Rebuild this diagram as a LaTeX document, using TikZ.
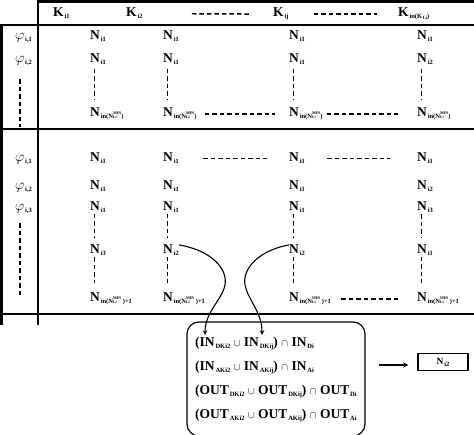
\documentclass[tikz,border=0pt]{standalone}
\usepackage{fontspec}
\setmainfont{Liberation Serif}
\usetikzlibrary{shapes, arrows}
\tikzstyle{cell} = [inner sep=0pt, anchor=base west, font=\fontsize{13.5}{16}\selectfont\bfseries]
\tikzstyle{gap} = [line width=1.5pt, dash pattern=on 4.5pt off 3pt]
\tikzstyle{rule} = [line width=1.8pt]
\tikzstyle{flow} = [line width=1.1pt,->,>=stealth]
\tikzstyle{eqbox} = [draw, line width=1.2pt, rounded corners=12pt, minimum width=178pt, minimum height=114pt]
\tikzstyle{result} = [draw, line width=1.2pt, minimum width=50pt, minimum height=17pt, inner sep=0pt, font=\fontsize{9.5}{11}\selectfont\bfseries]
\newcommand{\lo}[1]{\kern0.8pt\raisebox{-1.8pt}{\fontsize{6.5}{6.5}\selectfont\bfseries #1}}
\newcommand{\minli}{\raisebox{0.5pt}{\fontsize{4}{3.8}\selectfont\begin{tabular}[b]{@{}l@{}}MIN\\Li\end{tabular}}}
\newcommand{\phix}[1]{$\varphi$\lo{#1}}
\newcommand{\un}{\kern3.5pt{\fontsize{10}{10}\selectfont$\cup$}\kern3.5pt}
\newcommand{\isect}{\kern3.5pt{\fontsize{10}{10}\selectfont$\cap$}\kern3.5pt}

\begin{document}
\begin{tikzpicture}[x=1pt,y=-1pt]
\useasboundingbox (0,0) rectangle (474,435);

% table rules
\draw[rule, line width=2.4pt] (38,1.5) -- (474,1.5);
\draw[rule] (38,0) -- (38,325);
\draw[rule, line width=2.4pt] (1.5,25) -- (1.5,325);
\draw[rule] (0,25) -- (474,25);
\draw[rule] (0,129) -- (474,129);
\draw[rule] (0,314) -- (474,314);

% header
\node[cell] (k1) at (53,17) {K\lo{i1}};
\node[cell] (k2) at (126,17) {K\lo{i2}};
\node[cell] (k3) at (273,17) {K\lo{ij}};
\node[cell] (k4) at (398,17) {K\lo{in(K\raisebox{-1pt}{\fontsize{4.5}{4.5}\selectfont\,Li})}};
\draw[gap, shorten <=49pt, shorten >=23pt] (k2.east) -- (k3.west);
\draw[gap, shorten <=25pt, shorten >=21pt] (k3.east) -- (k4.west);

% upper block
\node[cell] (f1) at (15,40) {\phix{i,1}};
\node[cell] (f2) at (15,63) {\phix{i,2}};
\coordinate (fend) at (20,127);
\draw[gap, shorten <=13pt] ([xshift=5pt]f2.south west) -- (fend);

\node[cell] (u11) at (90,40) {N\lo{i1}};
\node[cell] (u12) at (163,40) {N\lo{i1}};
\node[cell] (u13) at (289,40) {N\lo{i1}};
\node[cell] (u14) at (417,40) {N\lo{i1}};
\node[cell] (u21) at (90,63) {N\lo{i1}};
\node[cell] (u22) at (163,63) {N\lo{i1}};
\node[cell] (u23) at (289,63) {N\lo{i1}};
\node[cell] (u24) at (417,63) {N\lo{i2}};
\foreach \c/\x in {1/90, 2/163, 3/289, 4/417}
  \node[cell] (u3\c) at (\x,117) {N\lo{in(N\minli)}};
\foreach \c in {1,...,4}
  \draw[gap, shorten <=4pt, shorten >=7.5pt] ([xshift=4.5pt]u2\c.south west) -- ([xshift=4.5pt]u3\c.north west);
\draw[gap, shorten <=8pt, shorten >=14pt] (u32.east) -- (u33.west);
\draw[gap, shorten <=4pt, shorten >=19pt] (u33.east) -- (u34.west);

% lower block
\node[cell] (g1) at (15,162) {\phix{i,1}};
\node[cell] (g2) at (15,190) {\phix{i,2}};
\node[cell] (g3) at (15,211) {\phix{i,3}};
\coordinate (gend) at (20,298);
\draw[gap, shorten <=9pt] ([xshift=5pt]g3.south west) -- (gend);

\foreach \c/\x in {1/90, 2/163, 3/289, 4/417}
  \node[cell] (l1\c) at (\x,162) {N\lo{i1}};
\node[cell] (l21) at (90,190) {N\lo{i1}};
\node[cell] (l22) at (163,190) {N\lo{i1}};
\node[cell] (l23) at (289,190) {N\lo{i1}};
\node[cell] (l24) at (417,190) {N\lo{i2}};
\node[cell] (l31) at (90,211) {N\lo{i1}};
\node[cell] (l32) at (163,211) {N\lo{i1}};
\node[cell] (l33) at (289,211) {N\lo{i1}};
\node[cell] (l34) at (417,211) {N\lo{i3}};
\node[cell] (l41) at (90,254) {N\lo{i3}};
\node[cell] (l42) at (163,254) {N\lo{i2}};
\node[cell] (l43) at (289,254) {N\lo{i2}};
\node[cell] (l44) at (417,254) {N\lo{i1}};
\foreach \c/\x in {1/90, 2/163, 3/289, 4/417}
  \node[cell] (l5\c) at (\x,302) {N\lo{in(N\minli\ )+1}};
\foreach \c in {1,...,4} {
  \draw[gap, shorten <=1pt, shorten >=7pt] ([xshift=4.5pt]l3\c.south west) -- ([xshift=4.5pt]l4\c.north west);
  \draw[gap, shorten <=1pt, shorten >=10pt] ([xshift=4.5pt]l4\c.south west) -- ([xshift=4.5pt]l5\c.north west);
}
\draw[gap, shorten <=24pt, shorten >=22pt] (l12.east) -- (l13.west);
\draw[gap, shorten <=22pt, shorten >=27pt] (l13.east) -- (l14.west);
\draw[gap, shorten <=10pt, shorten >=17pt] (l53.east) -- (l54.west);

% rule box
\node[eqbox] (eqbox) at (276,379) {};
\node[cell] (eq1) at (195,347) {(IN\lo{DKi2}\un IN\lo{DKij})\isect IN\lo{Di}};
\node[cell] (eq2) at (195,371) {(IN\lo{AKi2}\un IN\lo{AKij})\isect IN\lo{Ai}};
\node[cell] (eq3) at (195,395) {(OUT\lo{DKi2}\un OUT\lo{DKij})\isect OUT\lo{Di}};
\node[cell] (eq4) at (195,419) {(OUT\lo{AKi2}\un OUT\lo{AKij})\isect OUT\lo{Ai}};
\coordinate (in1) at (205,335);
\coordinate (in2) at (262,335);
\draw[flow] (l42.north east) .. controls (210,250) and (228,268) .. (225,285) .. controls (222,300) and (205,312) .. (in1);
\draw[flow] (l43.north west) .. controls (260,250) and (242,268) .. (245,285) .. controls (248,300) and (262,312) .. (in2);

\node[result] (res) at (443,362) {N\lo{i2}};
\coordinate (src) at (379,365);
\draw[flow, line width=1.3pt, shorten >=9pt] (src) -- (src -| res.west);
\end{tikzpicture}
\end{document}
